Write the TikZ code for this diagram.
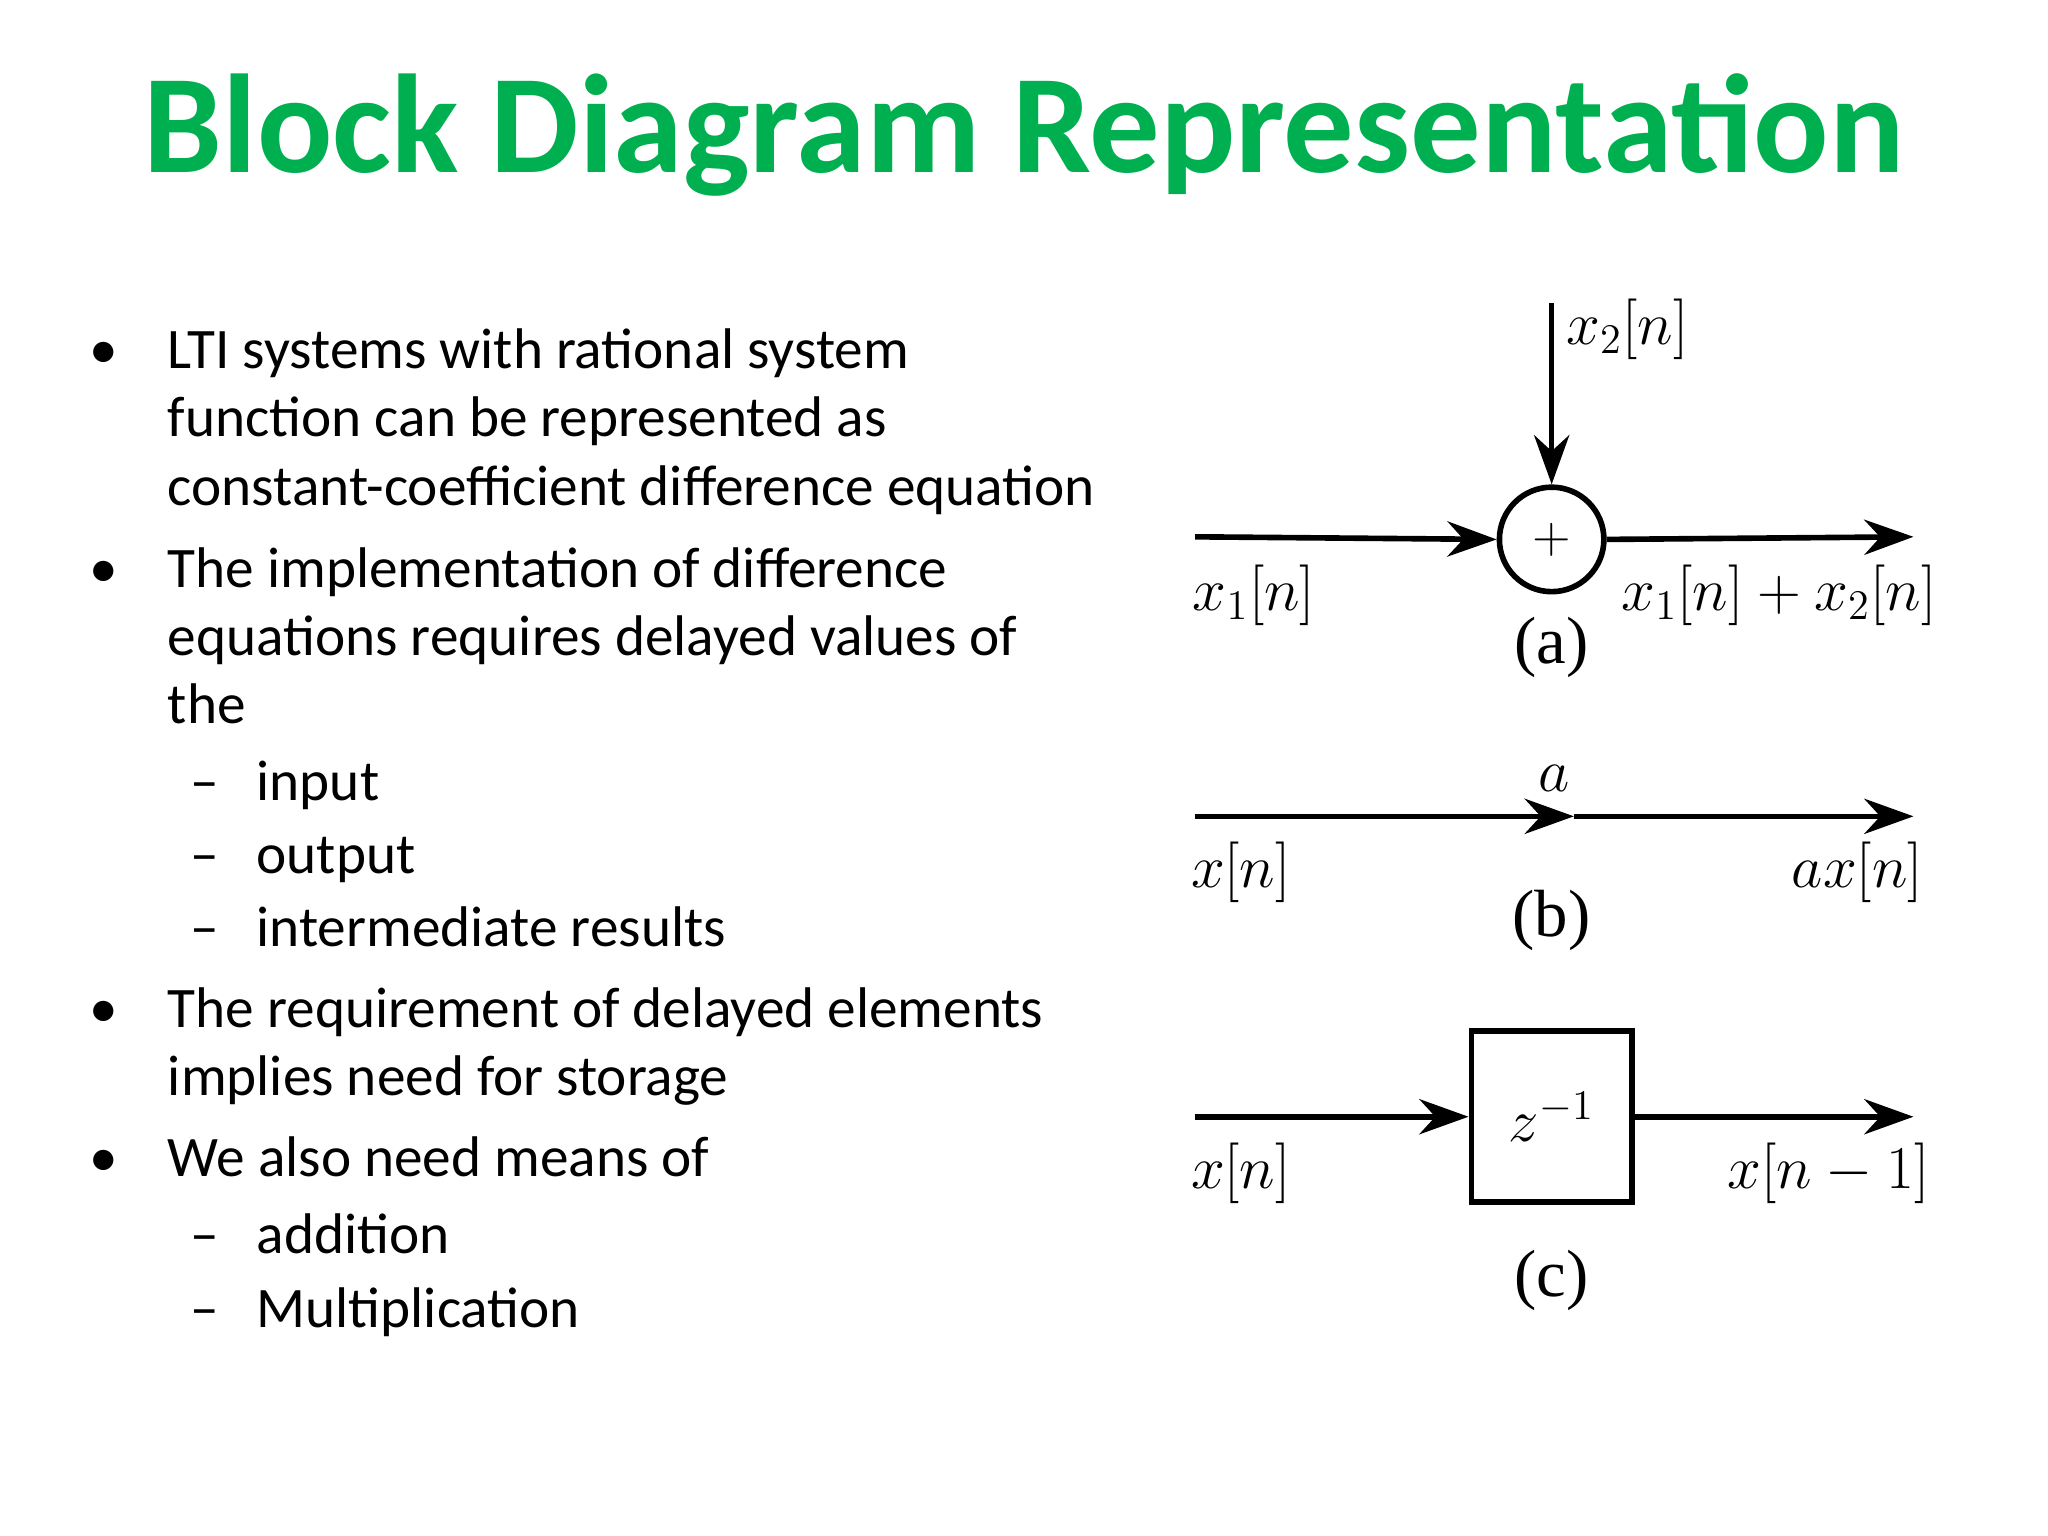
\documentclass[tikz,border=0pt]{standalone}
\usepackage{fontspec}
\setmainfont{Carlito}
\newfontfamily\serifnums{Liberation Serif}
\usetikzlibrary{arrows.meta}
\definecolor{titlegreen}{RGB}{0,176,80}
\tikzset{
  body/.style={anchor=base west,inner sep=0pt,font=\fontsize{16.3}{20}\selectfont},
  wire/.style={line width=1.6pt},
  arr/.style={wire,-{Stealth[length=14pt,width=10pt]}},
  lbl/.style={inner sep=0pt,font=\fontsize{17}{20}\selectfont},
  captext/.style={inner sep=0pt,font=\serifnums\fontsize{19}{22}\selectfont},
}
\begin{document}
\begin{tikzpicture}[x=0.013061cm,y=-0.013061cm]
\useasboundingbox (0,0) rectangle (1568,1176);
\node[font=\fontsize{40}{46}\selectfont\bfseries,text=titlegreen] (title) at (784,103) {Block Diagram Representation};
% bullets
\foreach \y/\t [count=\i] in {282/LTI systems with rational system,334/function can be represented as,387/constant-coefficient difference equation,450/The implementation of difference,502/equations requires delayed values of,554/the,787/The requirement of delayed elements,839/implies need for storage,901/We also need means of}
  \node[body] (l\i) at (128,\y) {\t};
\foreach \y [count=\i] in {282,450,787,901}
  \node[body] (b\i) at (68,\y) {\textbullet};
\foreach \y/\t [count=\i] in {613/input,669/output,725/intermediate results,960/addition,1016/Multiplication}{
  \node[body] (s\i) at (196,\y) {\t};
  \node[body] (d\i) at (145,\y) {--};}
% (a)
\node[draw,circle,wire,minimum size=80*0.013061cm,inner sep=0pt,font=\fontsize{15}{18}\selectfont] (sum) at (1188,413) {$+$};
\coordinate (atop) at (1188,232);
\coordinate (ain) at (915,411);
\coordinate (aout) at (1465,411);
\draw[arr] (atop) -- (sum.north);
\draw[arr] (ain) -- (sum.west);
\draw[arr] (sum.east) -- (aout);
\node[lbl] (x2) at (1246,252) {$x_2[n]$};
\node[lbl] (x1) at (960,456) {$x_1[n]$};
\node[lbl] (sumlbl) at (1362,456) {$x_1[n]+x_2[n]$};
\node[captext] (capa) at (1188,496) {(a)};
% (b)
\coordinate (bin) at (915,625);
\coordinate (bmid) at (1205,625);
\coordinate (bout) at (1465,625);
\draw[arr] (bin) -- (bmid);
\draw[arr] (bmid) -- (bout);
\node[lbl] (ga) at (1190,596) {$a$};
\node[lbl] (bx) at (950,668) {$x[n]$};
\node[lbl] (bax) at (1422,668) {$ax[n]$};
\node[captext] (capb) at (1188,705) {(b)};
% (c)
\node[draw,wire,minimum width=123*0.013061cm,minimum height=131*0.013061cm,font=\fontsize{17}{20}\selectfont] (delay) at (1188,855) {$z^{-1}$};
\coordinate (cin) at (915,855);
\coordinate (cout) at (1465,855);
\draw[arr] (cin) -- (delay.west);
\draw[arr] (delay.east) -- (cout);
\node[lbl] (cx) at (950,898) {$x[n]$};
\node[lbl] (cxd) at (1400,898) {$x[n-1]$};
\node[captext] (capc) at (1188,980) {(c)};
\end{tikzpicture}
\end{document}
